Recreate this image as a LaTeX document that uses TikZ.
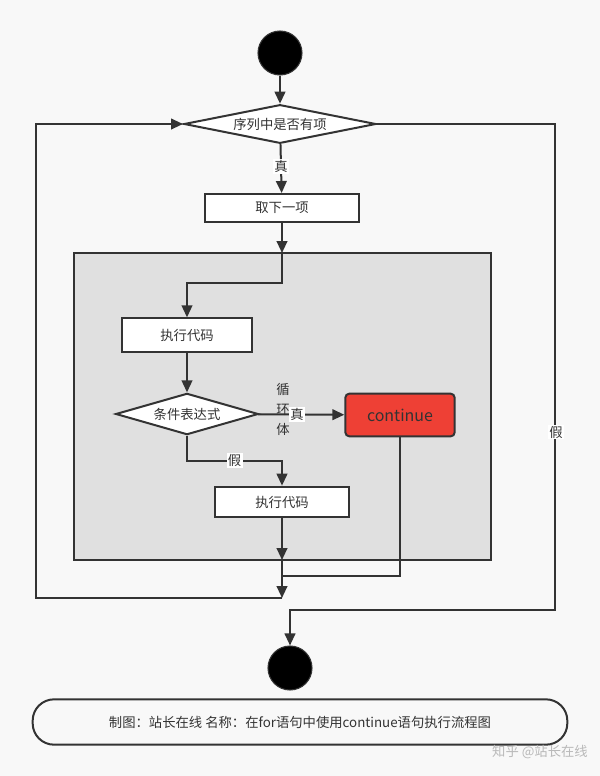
\documentclass[tikz,border=0pt]{standalone}
\usepackage{fontspec}
\setmainfont{Noto Sans CJK SC}
\usetikzlibrary{calc, positioning, arrows.meta, shapes.geometric}
\definecolor{ink}{HTML}{333333}
\definecolor{paper}{HTML}{F8F8F8}
\definecolor{panel}{HTML}{E0E0E0}
\definecolor{stopred}{HTML}{EE4035}
\tikzset{
    dot/.style={circle, draw=ink, thick, fill=black, minimum size=33pt, inner sep=0pt},
    proc/.style={rectangle, draw=ink, line width=1.5pt, fill=white, align=center, font=\normalsize, text=ink},
    test/.style={diamond, draw=ink, line width=1.5pt, fill=white, aspect=4.8, inner sep=0pt, font=\normalsize, text=ink},
    tag/.style={fill=white, inner sep=1pt, font=\normalsize, text=ink},
    arrow/.style={-{Triangle[length=9pt,width=8pt]}, line width=1.5pt, draw=ink},
    wire/.style={line width=1.5pt, draw=ink}
}
\begin{document}
\begin{tikzpicture}[x=0.75pt, y=-0.75pt]
        \useasboundingbox (0,0) rectangle (600,776);
        \fill[paper] (0,0) rectangle (600,776);
        % Loop body panel
        \draw[wire, fill=panel] (74,253) rectangle (491,560);

        % Nodes
        \node[dot] (Start) at (280,53) {};
        \node[test, minimum width=144pt, minimum height=29pt] (HasItem) at (280,124) {序列中是否有项};
        \node[proc, minimum width=116pt, minimum height=21pt] (NextItem) at (282,208) {取下一项};
        \node[proc, minimum width=97pt, minimum height=25pt] (RunA) at (187,335) {执行代码};
        \node[test, minimum width=107pt, minimum height=31pt] (Cond) at (187,414) {条件表达式};
        \node[proc, fill=stopred, rounded corners=3pt, minimum width=82pt, minimum height=32pt, font=\large] (Cont) at (400,415) {continue};
        \node[proc, minimum width=100pt, minimum height=23pt] (RunB) at (282,502) {执行代码};
        \node[dot] (Stop) at (290,668) {};
        \node[draw=ink, line width=1.5pt, rounded corners=16pt, minimum width=401pt, minimum height=34pt, font=\normalsize, text=ink] (Note) at (300,722) {制图：站长在线 名称：在for语句中使用continue语句执行流程图};
        \node[font=\normalsize, text=gray!55] (Mark) at (540,752) {知乎 @站长在线};

        % Helper points
        \coordinate (PanelTop) at (282,253);
        \coordinate (PanelBot) at (282,560);
        \coordinate (Join) at (282,598);

        % Connections
        \draw[arrow] (Start) -- (HasItem);
        \draw[arrow] (HasItem) -- node[tag, pos=0.45] {真} (NextItem);
        \draw[arrow] (NextItem) -- (PanelTop);
        \draw[arrow] (PanelTop) -- ++(0,30) -| (RunA);
        \draw[arrow] (RunA) -- (Cond);
        \draw[arrow] (Cond) -- node[tag, pos=0.45] {真} (Cont);
        \draw[arrow] (Cond.south) |- ++(0,25) -| node[tag, pos=0.25] {假} (RunB);
        \draw[arrow] (RunB) -- (PanelBot);
        \draw[arrow] (PanelBot) -- (Join);
        \draw[wire] (Cont.south) |- ($(Join)+(0,-22)$);
        \draw[arrow] (Join) -| (36,124) -- (HasItem.west);
        \draw[arrow] (HasItem.east) -| (555,610) -| (Stop);
        \node[tag] (False) at (556,432) {假};
        \node[font=\normalsize, text=ink, align=center, inner sep=0pt] (Body) at (283,409) {循\\[3pt]环\\[3pt]体};
\end{tikzpicture}
\end{document}
